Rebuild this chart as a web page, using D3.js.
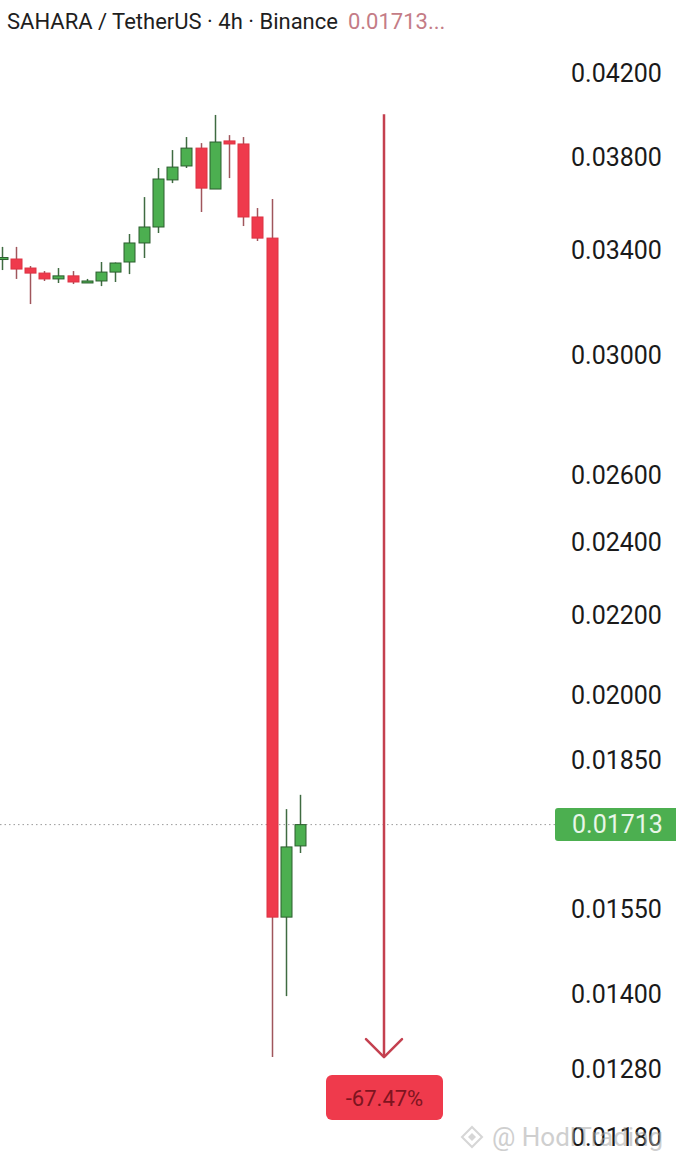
<!DOCTYPE html>
<html>
<head>
<meta charset="utf-8">
<script src="https://cdn.jsdelivr.net/npm/d3@7"></script>
<style>
html,body{margin:0;padding:0;background:#fff;}
svg{display:block;font-family:Roboto,"Noto Sans",sans-serif;}
</style>
</head>
<body>
<svg id="chart" width="676" height="1161"></svg>
<script>
const symbolTitle = "SAHARA / TetherUS · 4h · Binance";
const lastPriceText = "0.01713...";
const candleIndex = [0,1,2,3,4,5,6,7,8,9,10,11,12,13,14,15,16,17,18,19,20,21];
const opens  = [0.03366,0.03364,0.03328,0.03308,0.03285,0.03297,0.03273,0.03277,0.03312,0.03352,0.03429,0.03495,0.03697,0.03759,0.03840,0.03657,0.03873,0.03859,0.03537,0.03449,0.01534,0.01670];
const highs  = [0.03413,0.03413,0.03336,0.03316,0.03328,0.03316,0.03285,0.03352,0.03350,0.03466,0.03622,0.03750,0.03831,0.03891,0.03863,0.03995,0.03900,0.03891,0.03575,0.03614,0.01745,0.01775];
const lows   = [0.03320,0.03285,0.03188,0.03277,0.03269,0.03265,0.03269,0.03257,0.03273,0.03304,0.03368,0.03470,0.03683,0.03750,0.03558,0.03657,0.03705,0.03499,0.03437,0.01298,0.01396,0.01656];
const closes = [0.03370,0.03324,0.03308,0.03285,0.03297,0.03273,0.03277,0.03312,0.03348,0.03429,0.03495,0.03701,0.03754,0.03840,0.03661,0.03868,0.03859,0.03537,0.03449,0.01534,0.01668,0.01713];
const tickValues = [0.042,0.038,0.034,0.030,0.026,0.024,0.022,0.020,0.0185,0.0155,0.014,0.0128,0.0118];
const lastPrice = 0.01713;
const changeLabel = "-67.47%";
const arrowFrom = 0.03998;
const arrowTo = 0.01298;
const watermark = "@ HodlTrading";

const svg = d3.select("#chart");
const y = d3.scaleLog().domain([0.042, 0.0118]).range([73, 1137]);
const x = d3.scaleLinear().domain([0, 21]).range([1.5, 300]);

// header
const hdr = svg.append("text").attr("x", 7).attr("y", 29).attr("font-size", 22);
hdr.append("tspan").attr("fill", "#1e1e1e").text(symbolTitle);
hdr.append("tspan").attr("fill", "#c47c86").attr("dx", 10).text(lastPriceText);

// last price dotted line
svg.append("line").attr("x1", 0).attr("x2", 555)
  .attr("y1", y(lastPrice)).attr("y2", y(lastPrice))
  .attr("stroke", "#9a9a9a").attr("stroke-width", 1).attr("stroke-dasharray", "1.5,3");

// candles
const data = candleIndex.map(i => ({i, o: opens[i], h: highs[i], l: lows[i], c: closes[i]}));
const bw = 11;
const g = svg.append("g");
data.forEach(d => {
  const up = d.c >= d.o;
  const cx = Math.round(x(d.i)) + 0.5;
  g.append("line").attr("x1", cx).attr("x2", cx)
    .attr("y1", y(d.h)).attr("y2", y(d.l))
    .attr("stroke", up ? "#3f6b41" : "#a0565c").attr("stroke-width", 1.5);
  const top = y(Math.max(d.o, d.c)), bot = y(Math.min(d.o, d.c));
  g.append("rect").attr("x", cx - bw/2).attr("y", top)
    .attr("width", bw).attr("height", Math.max(2, bot - top))
    .attr("fill", up ? "#4caf50" : "#ef3a4c")
    .attr("stroke", up ? "#2c5e2f" : "#dc3343").attr("stroke-width", 1);
});

// y axis labels (right side)
const axis = d3.axisRight(y).tickValues(tickValues).tickSize(0).tickFormat(d => d.toFixed(5));
const ax = svg.append("g").attr("transform", "translate(571,0)").call(axis);
ax.select(".domain").remove();
ax.selectAll("text").attr("x", 0).attr("dy", "0.35em").attr("font-size", 25)
  .attr("font-family", "Roboto, sans-serif").attr("fill", "#1a1a1a");

// last price tag
svg.append("rect").attr("x", 555).attr("y", y(lastPrice) - 16.5).attr("width", 130).attr("height", 33)
  .attr("rx", 3).attr("fill", "#4caf50");
svg.append("text").attr("x", 572).attr("y", y(lastPrice)).attr("dy", "0.35em")
  .attr("font-size", 25).attr("fill", "#e8f6e8").text(lastPrice.toFixed(5));

// arrow
const axx = 384;
const aTop = y(arrowFrom), aBot = y(arrowTo);
const arrowColor = "#c4404f";
svg.append("line").attr("x1", axx).attr("x2", axx).attr("y1", aTop).attr("y2", aBot)
  .attr("stroke", arrowColor).attr("stroke-width", 2.5);
svg.append("path").attr("d", `M${axx-18},${aBot-18} L${axx},${aBot} L${axx+18},${aBot-18}`)
  .attr("fill", "none").attr("stroke", arrowColor).attr("stroke-width", 2.5)
  .attr("stroke-linecap", "round").attr("stroke-linejoin", "round");

// change label
svg.append("rect").attr("x", 326).attr("y", 1075).attr("width", 117).attr("height", 45)
  .attr("rx", 6).attr("fill", "#ef3a4c");
svg.append("text").attr("x", 384.5).attr("y", 1098).attr("dy", "0.35em").attr("text-anchor", "middle")
  .attr("font-size", 22).attr("fill", "#7e141f").text(changeLabel);

// watermark
const wm = svg.append("g").attr("opacity", 0.55);
const lx = 472, ly = 1137;
wm.append("path").attr("d", `M${lx},${ly-10} L${lx+10},${ly} L${lx},${ly+10} L${lx-10},${ly} Z`)
  .attr("fill", "none").attr("stroke", "#b5b5b5").attr("stroke-width", 2);
wm.append("path").attr("d", `M${lx},${ly-4} L${lx+4},${ly} L${lx},${ly+4} L${lx-4},${ly} Z`)
  .attr("fill", "#b5b5b5");
wm.append("text").attr("x", 492).attr("y", ly).attr("dy", "0.35em").attr("font-size", 26)
  .attr("fill", "#a8a8a8").text(watermark);
</script>
</body>
</html>
